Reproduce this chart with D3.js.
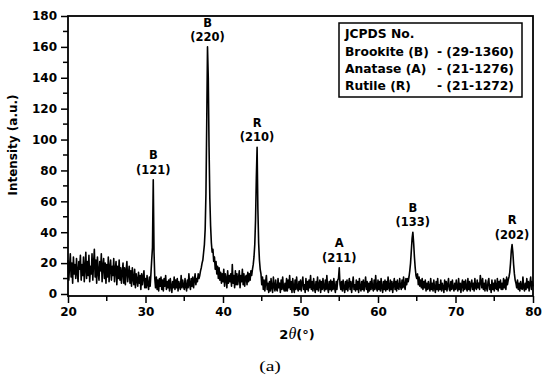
<!DOCTYPE html>
<html>
<head>
<meta charset="utf-8">
<script src="https://cdn.jsdelivr.net/npm/d3@7"></script>
<style>
  body { margin: 0; background: #fff; }
  svg { display: block; }
</style>
</head>
<body>
<script>
// XRD pattern, 2θ from 20 to 80 in steps of 0.1
const thetaStart = 20
const thetaStep = 0.1
const intensity = [
  22, 9, 18, 26, 11, 20, 7, 24, 13, 19,
  10, 23, 14, 8, 21, 16, 25, 9, 19, 12,
  24, 8, 17, 27, 10, 21, 12, 25, 8, 18,
  13, 26, 9, 20, 29, 11, 22, 7, 24, 14,
  9, 21, 15, 26, 8, 18, 23, 10, 20, 7,
  19, 11, 24, 8, 17, 22, 9, 18, 12, 23,
  8, 16, 21, 6, 18, 10, 22, 9, 17, 7,
  14, 20, 7, 17, 6, 15, 21, 8, 13, 18,
  7, 15, 5, 17, 10, 6, 16, 4, 13, 9,
  5, 14, 7, 12, 3, 13, 6, 11, 15, 4,
  10, 4, 12, 6, 3, 11, 5, 13, 22, 30,
  74, 27, 10, 4, 11, 3, 9, 2, 10, 5,
  11, 3, 9, 2, 10, 5, 12, 3, 8, 4,
  9, 2, 10, 5, 1, 8, 4, 11, 3, 9,
  4, 10, 2, 8, 5, 3, 12, 4, 9, 5,
  3, 10, 5, 2, 9, 4, 13, 6, 3, 10,
  5, 11, 4, 9, 13, 6, 10, 8, 13, 10,
  12, 15, 17, 20, 22, 27, 32, 42, 65, 110,
  160, 140, 95, 62, 44, 33, 27, 29, 21, 24,
  16, 21, 13, 18, 10, 17, 9, 14, 7, 13,
  8, 16, 5, 13, 10, 4, 15, 7, 12, 8,
  13, 5, 19, 7, 12, 4, 15, 6, 13, 6,
  10, 15, 4, 12, 8, 16, 6, 13, 5, 11,
  12, 6, 14, 8, 13, 9, 15, 12, 16, 19,
  24, 32, 48, 75, 95, 55, 33, 22, 16, 13,
  6, 11, 3, 9, 2, 8, 12, 3, 7, 1,
  8, 2, 10, 4, 1, 11, 5, 2, 9, 3,
  2, 10, 4, 7, 1, 9, 3, 11, 4, 2,
  7, 2, 10, 2, 9, 4, 12, 3, 8, 1,
  10, 4, 1, 9, 3, 11, 4, 2, 8, 3,
  9, 2, 7, 11, 3, 6, 1, 10, 3, 8,
  2, 9, 4, 12, 3, 8, 2, 10, 4, 1,
  8, 3, 11, 2, 6, 9, 1, 8, 3, 10,
  4, 2, 9, 3, 12, 4, 1, 8, 3, 9,
  2, 8, 3, 10, 4, 1, 8, 3, 9, 10,
  17, 6, 3, 8, 2, 9, 4, 1, 8, 3,
  9, 2, 6, 10, 3, 8, 1, 6, 11, 3,
  6, 2, 9, 3, 8, 1, 10, 4, 2, 8,
  3, 9, 2, 6, 11, 3, 8, 1, 7, 2,
  8, 3, 10, 4, 2, 9, 3, 12, 4, 2,
  9, 3, 8, 2, 10, 4, 1, 8, 3, 9,
  2, 8, 3, 11, 4, 2, 9, 3, 8, 1,
  6, 10, 3, 8, 2, 9, 4, 3, 10, 5,
  3, 9, 4, 11, 5, 3, 10, 6, 10, 8,
  11, 15, 20, 28, 36, 40, 33, 24, 17, 12,
  10, 13, 6, 11, 5, 9, 4, 10, 3, 8,
  4, 9, 2, 7, 3, 8, 4, 2, 10, 3,
  7, 2, 9, 4, 1, 8, 3, 10, 2, 6,
  3, 9, 2, 7, 4, 1, 9, 3, 8, 2,
  6, 10, 3, 2, 8, 3, 9, 4, 2, 7,
  3, 9, 4, 2, 10, 3, 7, 1, 6, 9,
  2, 8, 3, 9, 4, 2, 10, 3, 8, 2,
  6, 9, 3, 7, 2, 10, 4, 3, 9, 4,
  7, 3, 12, 8, 4, 10, 3, 7, 2, 9,
  4, 2, 8, 10, 3, 6, 1, 9, 3, 7,
  2, 9, 4, 3, 10, 2, 8, 4, 9, 3,
  7, 3, 10, 4, 9, 3, 11, 6, 9, 11,
  14, 20, 28, 32, 27, 19, 13, 9, 7, 4,
  9, 3, 7, 2, 8, 4, 3, 11, 4, 2,
  7, 3, 10, 4, 8, 2, 7, 11, 3, 8,
  5
]

// indexed peaks: position, phase letter, Miller indices, peak height
const peakTheta = [31.0, 38.0, 44.4, 55.0, 64.5, 77.3]
const peakPhase = ['B', 'B', 'R', 'A', 'B', 'R']
const peakHkl = ['(121)', '(220)', '(210)', '(211)', '(133)', '(202)']
const peakTop = [74, 160, 95, 17, 40, 32]

const legendNames = ['Brookite (B)', 'Anatase (A)', 'Rutile (R)']
const legendCodes = ['- (29-1360)', '- (21-1276)', '- (21-1272)']

const xTicks = [20, 30, 40, 50, 60, 70, 80]
const yTicks = [0, 20, 40, 60, 80, 100, 120, 140, 160, 180]

const width = 550
const height = 378
const sans = "'DejaVu Sans', Verdana, sans-serif"

const svg = d3
  .select('body')
  .append('svg')
  .attr('width', width)
  .attr('height', height)

const x = d3.scaleLinear().domain([20, 80]).range([68, 533])
const y = d3.scaleLinear().domain([-1.3, 180]).range([296, 16])

const data = intensity.map((v, i) => [thetaStart + i * thetaStep, v])

// minor ticks
const xMinor = d3.range(25, 80, 10)
const yMinor = d3.range(10, 180, 20)

svg
  .append('g')
  .attr('stroke', '#000')
  .attr('stroke-width', 1.5)
  .selectAll('line')
  .data(xMinor)
  .join('line')
  .attr('x1', (d) => x(d))
  .attr('x2', (d) => x(d))
  .attr('y1', 296)
  .attr('y2', 301)

svg
  .append('g')
  .attr('stroke', '#000')
  .attr('stroke-width', 1.5)
  .selectAll('line')
  .data(yMinor)
  .join('line')
  .attr('y1', (d) => y(d))
  .attr('y2', (d) => y(d))
  .attr('x1', 68)
  .attr('x2', 63)

// axes
const xAxis = svg
  .append('g')
  .attr('transform', 'translate(0,296)')
  .call(d3.axisBottom(x).tickValues(xTicks).tickSize(7).tickPadding(4))
const yAxis = svg
  .append('g')
  .attr('transform', 'translate(68,0)')
  .call(d3.axisLeft(y).tickValues(yTicks).tickSize(7).tickPadding(4))

;[xAxis, yAxis].forEach((g) => {
  g.select('.domain').remove()
  g.selectAll('.tick line').attr('stroke', '#000').attr('stroke-width', 1.5)
  g.selectAll('.tick text')
    .attr('fill', '#000')
    .style('font-family', sans)
    .style('font-weight', 'bold')
    .style('font-size', '12px')
})

// the pattern
svg
  .append('path')
  .datum(data)
  .attr('fill', 'none')
  .attr('stroke', '#000')
  .attr('stroke-width', 1.6)
  .attr('stroke-linejoin', 'round')
  .attr(
    'd',
    d3
      .line()
      .x((d) => x(d[0]))
      .y((d) => y(d[1]))
  )

// frame
svg
  .append('rect')
  .attr('x', 68)
  .attr('y', 16)
  .attr('width', 533 - 68)
  .attr('height', 296 - 16)
  .attr('fill', 'none')
  .attr('stroke', '#000')
  .attr('stroke-width', 1.8)

// peak labels
const labels = svg
  .append('g')
  .style('font-family', sans)
  .style('font-weight', 'bold')
  .style('font-size', '11.5px')
  .attr('text-anchor', 'middle')
  .selectAll('g')
  .data(peakTheta)
  .join('g')
  .attr('transform', (d, i) => `translate(${x(d)},${y(peakTop[i]) - 10})`)

labels
  .append('text')
  .attr('y', -14.5)
  .attr('dy', '0.36em')
  .text((d, i) => peakPhase[i])

labels
  .append('text')
  .attr('dy', '0.36em')
  .text((d, i) => peakHkl[i])

// JCPDS box
svg
  .append('rect')
  .attr('x', 339)
  .attr('y', 23)
  .attr('width', 183)
  .attr('height', 74)
  .attr('fill', '#fff')
  .attr('stroke', '#000')
  .attr('stroke-width', 1.5)

const legend = svg
  .append('g')
  .style('font-family', sans)
  .style('font-weight', 'bold')
  .style('font-size', '12.3px')

legend.append('text').attr('x', 345).attr('y', 38).text('JCPDS No.')

legend
  .selectAll('text.name')
  .data(legendNames)
  .join('text')
  .attr('class', 'name')
  .attr('x', 345)
  .attr('y', (d, i) => 56 + i * 17.2)
  .text((d) => d)

legend
  .selectAll('text.code')
  .data(legendCodes)
  .join('text')
  .attr('class', 'code')
  .attr('x', 514)
  .attr('y', (d, i) => 56 + i * 17.2)
  .attr('text-anchor', 'end')
  .text((d) => d)

// axis titles
svg
  .append('text')
  .attr('transform', 'translate(17,145) rotate(-90)')
  .attr('text-anchor', 'middle')
  .style('font-family', sans)
  .style('font-weight', 'bold')
  .style('font-size', '12px')
  .text('Intensity (a.u.)')

const xTitle = svg
  .append('text')
  .attr('x', 297)
  .attr('y', 339)
  .attr('text-anchor', 'middle')
  .style('font-size', '13px')
xTitle.append('tspan').style('font-family', sans).style('font-weight', 'bold').text('2')
xTitle
  .append('tspan')
  .style('font-family', "'Liberation Serif', serif")
  .style('font-style', 'italic')
  .style('font-size', '16px')
  .text('θ')
xTitle
  .append('tspan')
  .style('font-family', sans)
  .style('font-weight', 'bold')
  .text('(°)')

svg
  .append('text')
  .attr('transform', 'translate(270,371) scale(1.4,1)')
  .attr('text-anchor', 'middle')
  .style('font-family', "'Liberation Serif', serif")
  .style('font-size', '14px')
  .text('(a)')
</script>
</body>
</html>
